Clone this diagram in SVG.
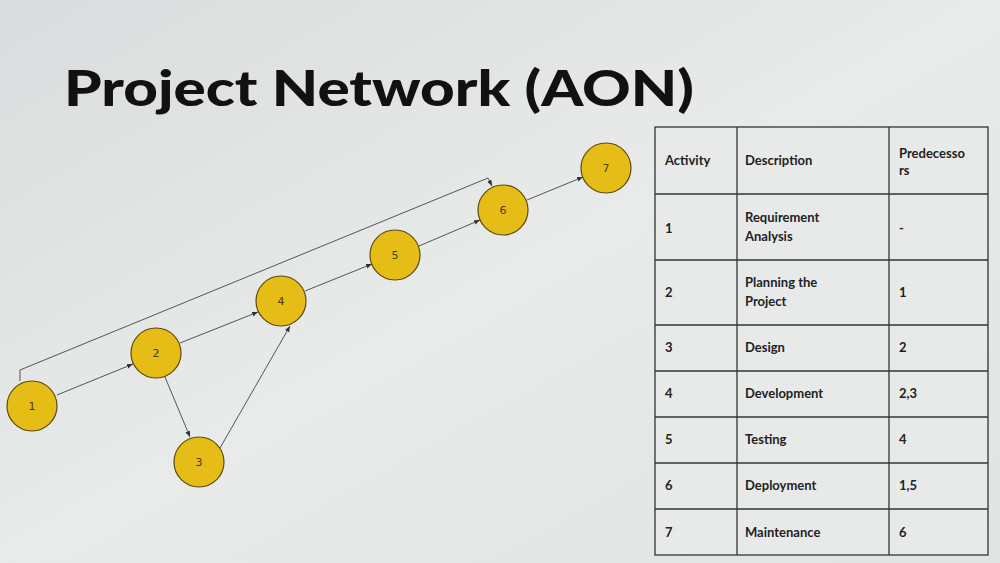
<svg xmlns="http://www.w3.org/2000/svg" width="1000" height="563" viewBox="0 0 1000 563">
<defs>
<linearGradient id="bg" x1="0" y1="0" x2="1" y2="1"><stop offset="0" stop-color="#d9dcdc"/><stop offset="0.5" stop-color="#e9ebea"/><stop offset="1" stop-color="#e2e4e4"/></linearGradient>
<marker id="ah" viewBox="0 0 10 10" refX="10" refY="5" markerWidth="6" markerHeight="6" orient="auto"><path d="M0,1 L10,5 L0,9 z" fill="#333"/></marker>
</defs>
<style>
.n circle{fill:#e6bd17;stroke:#5a4a10;stroke-width:1.2}
.n text{font-family:"DejaVu Sans",sans-serif;font-size:11px;fill:#4a3c10;text-anchor:middle}
.c line,.c polyline{stroke:#555;stroke-width:1;fill:none;marker-end:url(#ah)}
.t line{stroke:#333;stroke-width:1.3}
.t text{font-family:"Lato","DejaVu Sans",sans-serif;font-weight:bold;font-size:13px;fill:#222}
</style>
<rect width="1000" height="563" fill="url(#bg)"/>
<text x="64" y="106" font-family="Lato,'DejaVu Sans',sans-serif" font-weight="900" font-size="50" fill="#111" textLength="630" lengthAdjust="spacingAndGlyphs">Project Network (AON)</text>
<g class="c">
<line x1="57" y1="395" x2="133" y2="364"/>
<polyline points="20,381 20,370 488,178 492,186"/>
<line x1="180" y1="343" x2="258" y2="312"/>
<line x1="165" y1="377" x2="190" y2="437"/>
<line x1="220" y1="448" x2="290" y2="326"/>
<line x1="305" y1="291" x2="372" y2="264"/>
<line x1="419" y1="246" x2="480" y2="220"/>
<line x1="527" y1="200" x2="583" y2="177"/>
</g>
<g id="n1" class="n"><circle cx="32" cy="406" r="25"/><text x="32" y="410">1</text></g>
<g id="n2" class="n"><circle cx="156" cy="353" r="25"/><text x="156" y="357">2</text></g>
<g id="n3" class="n"><circle cx="199" cy="462" r="25"/><text x="199" y="466">3</text></g>
<g id="n4" class="n"><circle cx="281" cy="301" r="25"/><text x="281" y="305">4</text></g>
<g id="n5" class="n"><circle cx="395" cy="255" r="25"/><text x="395" y="259">5</text></g>
<g id="n6" class="n"><circle cx="503" cy="210" r="25"/><text x="503" y="214">6</text></g>
<g id="n7" class="n"><circle cx="606" cy="168" r="25"/><text x="606" y="172">7</text></g>
<g id="table" class="t">
<rect x="655" y="127" width="333" height="428" fill="#e8eaea" stroke="#333" stroke-width="1.3"/>
<line x1="737" y1="127" x2="737" y2="555"/><line x1="889" y1="127" x2="889" y2="555"/>
<line x1="655" y1="194" x2="988" y2="194"/><line x1="655" y1="260" x2="988" y2="260"/>
<line x1="655" y1="325" x2="988" y2="325"/><line x1="655" y1="371" x2="988" y2="371"/>
<line x1="655" y1="417" x2="988" y2="417"/><line x1="655" y1="463" x2="988" y2="463"/>
<line x1="655" y1="509" x2="988" y2="509"/>
<text x="665" y="165">Activity</text><text x="745" y="165">Description</text>
<text x="899" y="158" font-size="11" fill="#555">Predecesso</text><text x="899" y="175" font-size="11" fill="#555">rs</text>
<text x="665" y="233">1</text><text x="745" y="222">Requirement</text><text x="745" y="241">Analysis</text><text x="899" y="233">-</text>
<text x="665" y="297">2</text><text x="745" y="287">Planning the</text><text x="745" y="306">Project</text><text x="899" y="297">1</text>
<text x="665" y="352">3</text><text x="745" y="352">Design</text><text x="899" y="352">2</text>
<text x="665" y="398">4</text><text x="745" y="398">Development</text><text x="899" y="398">2,3</text>
<text x="665" y="444">5</text><text x="745" y="444">Testing</text><text x="899" y="444">4</text>
<text x="665" y="490">6</text><text x="745" y="490">Deployment</text><text x="899" y="490">1,5</text>
<text x="665" y="537">7</text><text x="745" y="537">Maintenance</text><text x="899" y="537">6</text>
</g>
</svg>
